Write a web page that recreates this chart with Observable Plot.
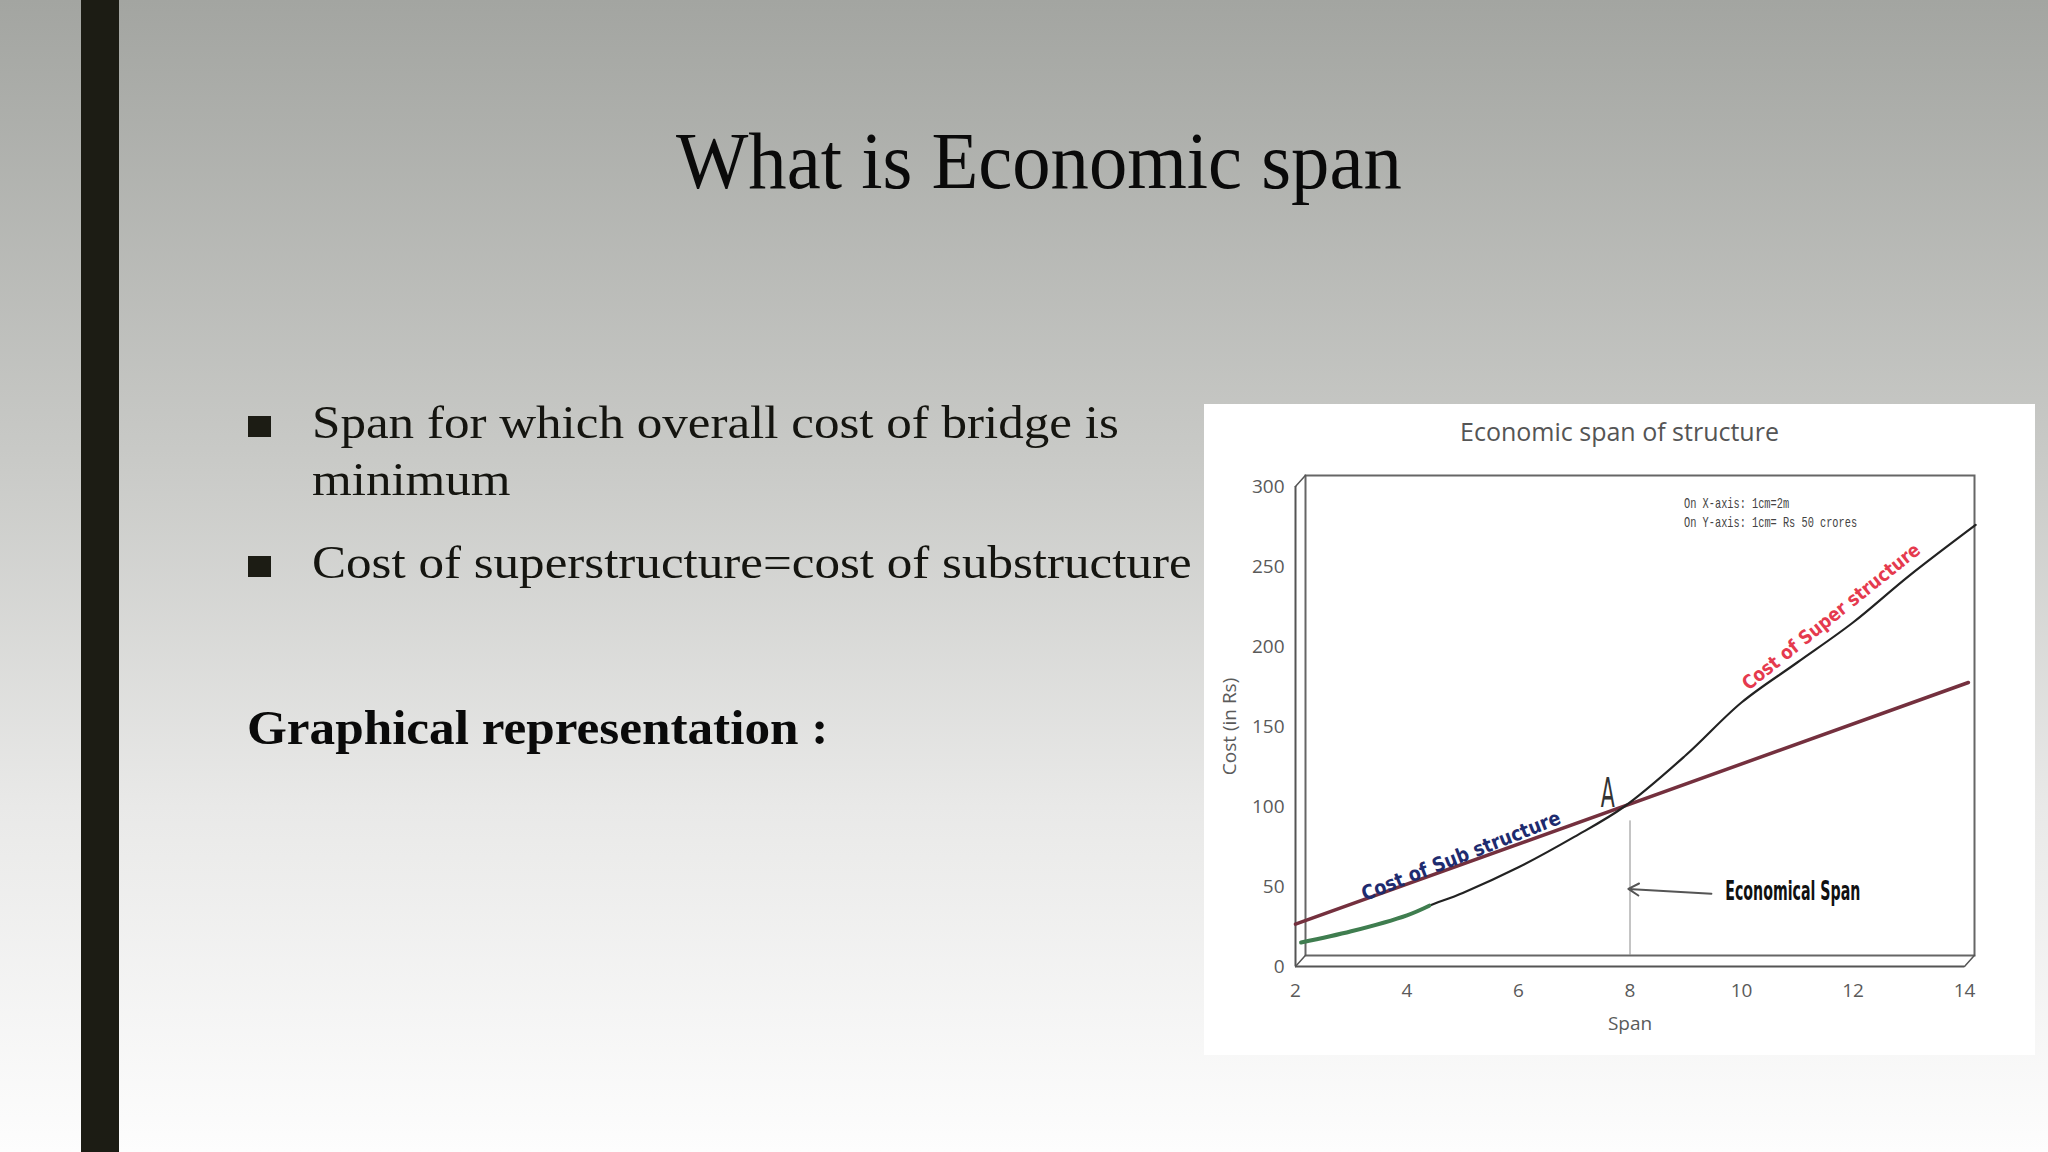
<!DOCTYPE html>
<html>
<head>
<meta charset="utf-8">
<script src="https://cdn.jsdelivr.net/npm/d3@7"></script>
<script src="https://cdn.jsdelivr.net/npm/@observablehq/plot@0.6"></script>
<style>
  html, body { margin: 0; padding: 0; }
  body {
    width: 2048px; height: 1152px; position: relative; overflow: hidden;
    background: linear-gradient(to bottom, #a3a5a1 0%, #c9cac7 40%, #e9e9e8 70%, #fdfdfd 100%);
    font-family: "Liberation Serif", "Times New Roman", serif;
  }
  #bar { position: absolute; left: 81px; top: 0; width: 38px; height: 1152px; background: #1c1c14; }
  .line { position: absolute; white-space: nowrap; line-height: 1; color: #111; transform-origin: 0 0; }
  #title { left: 676px; top: 121px; font-size: 80px; color: #0a0a0a; transform: scaleX(0.958); }
  .bul { font-size: 46px; color: #151510; transform: scaleX(1.11); }
  .sq { position: absolute; width: 23px; height: 21px; background: #1c1c14; }
  #graph { font-size: 48px; font-weight: bold; color: #0a0a0a; transform: scaleX(1.067); }
  #panel { position: absolute; left: 1204px; top: 404px; width: 831px; height: 651px; background: #ffffff; }
  #ctitle { position: absolute; left: 0; top: 10px; width: 831px; text-align: center;
            font-family: "Open Sans", sans-serif; font-size: 25px; line-height: 34px; color: #555; }
  #chart { position: absolute; left: 0; top: 56px; }
</style>
</head>
<body>
<div id="bar"></div>
<div class="line" id="title">What is Economic span</div>

<div class="sq" style="left:248px; top:416px;"></div>
<div class="line bul" style="left:312px; top:400px;">Span for which overall cost of bridge is</div>
<div class="line bul" style="left:312px; top:457px;">minimum</div>
<div class="sq" style="left:248px; top:556px;"></div>
<div class="line bul" style="left:312px; top:540px;">Cost of superstructure=cost of substructure</div>

<div class="line" id="graph" style="left:247px; top:704px;">Graphical representation :</div>

<div id="panel">
  <div id="ctitle">Economic span of structure</div>
  <div id="chart"></div>
</div>

<script>
// ---- data ----
const spanTicks = [2, 4, 6, 8, 10, 12, 14];
const costTicks = [0, 50, 100, 150, 200, 250, 300];

// straight line: cost of sub structure
const subSpan = [2, 14.07];
const subCost = [26.5, 177.5];

// curve: cost of super structure
const superSpan = [2.1, 3, 4, 4.4, 5, 6, 7, 7.9, 9, 10, 11, 12, 13, 14.2];
const superCost = [15, 22, 32, 38, 46, 62, 81, 100, 132, 165, 190, 215, 244, 276];
const greenUpTo = 4.4;

const economicalSpan = 8;
const spanRuleCost = [7, 91];
const arrowFrom = [9.46, 45.5];
const arrowTo = [7.97, 48.5];

const noteLines = ["On X-axis: 1cm=2m", "On Y-axis: 1cm= Rs 50 crores"];
const noteSpan = 8.97;
const noteCost = [289.5, 277.6];

const labels = [
  {x: 4.97, y: 69, text: "Cost of Sub structure", rotate: -21.5, color: "#1e2b6f", size: 20, len: 212},
  {x: 11.61, y: 218.5, text: "Cost of Super structure", rotate: -38.7, color: "#e53a4e", size: 19, len: 222}
];

// ---- build ----
const superData = superSpan.map((x, i) => ({x, y: superCost[i]}));
const subData = subSpan.map((x, i) => ({x, y: subCost[i]}));
const greenData = superData.filter(d => d.x <= greenUpTo);
const corners = [{x: 2, y: 300}, {x: 2, y: 0}, {x: 14, y: 0}];
const notes = noteLines.map((t, i) => ({t, x: noteSpan, y: noteCost[i]}));

const stick = {draw(context, l) { context.moveTo(0, 0); context.lineTo(0, -l); }};

const chart = Plot.plot({
  width: 831, height: 595,
  marginLeft: 91, marginRight: 71, marginTop: 26, marginBottom: 89,
  x: {domain: [2, 14]},
  y: {domain: [0, 300]},
  style: {background: "transparent", fontFamily: "Open Sans", overflow: "visible"},
  marks: [
    Plot.frame({dx: 10, dy: -11, stroke: "#666", strokeWidth: 2}),
    Plot.ruleX([2], {y1: 0, y2: 300, stroke: "#555", strokeWidth: 2}),
    Plot.ruleY([0], {x1: 2, x2: 14, stroke: "#555", strokeWidth: 2}),
    Plot.vector(corners, {x: "x", y: "y", length: 15, rotate: 42, anchor: "start", shape: stick, stroke: "#555", strokeWidth: 1.5}),
    Plot.axisX(spanTicks, {tickSize: 0, tickPadding: 17, fontSize: 19, fill: "#5a5a5a", label: null}),
    Plot.axisY(costTicks, {tickSize: 0, tickPadding: 11, fontSize: 19, fill: "#5a5a5a", label: null}),
    Plot.text(["Cost (in Rs)"], {frameAnchor: "left", dx: -66, rotate: -90, textAnchor: "middle", lineAnchor: "middle",
                     fontSize: 19, fill: "#5a5a5a"}),
    Plot.text(["Span"], {frameAnchor: "bottom", dy: 57, lineAnchor: "middle", fontSize: 19, fill: "#5a5a5a"}),
    Plot.ruleX([economicalSpan], {y1: spanRuleCost[0], y2: spanRuleCost[1], stroke: "#8a8a8a", strokeWidth: 1}),
    Plot.line(subData, {x: "x", y: "y", stroke: "#74303e", strokeWidth: 3.5}),
    Plot.line(superData, {x: "x", y: "y", stroke: "#222", strokeWidth: 2.2, curve: "catmull-rom"}),
    Plot.line(greenData, {x: "x", y: "y", stroke: "#3f7d4f", strokeWidth: 4, curve: "catmull-rom"}),
    Plot.arrow([0], {x1: () => arrowFrom[0], y1: () => arrowFrom[1], x2: () => arrowTo[0], y2: () => arrowTo[1],
                     stroke: "#555", strokeWidth: 2, headLength: 9}),
    Plot.text([{x: 7.6, y: 108}], {x: "x", y: "y", text: () => "A", fontSize: 40, fill: "#333",
                     fontFamily: "Liberation Sans Narrow, DejaVu Sans Condensed, sans-serif"}),
    Plot.text([{x: 10.92, y: 46.7}], {x: "x", y: "y", text: () => "Economical Span", fontSize: 27, fill: "#111",
                     fontWeight: "bold", fontFamily: "Liberation Sans Narrow, DejaVu Sans Condensed, sans-serif"}),
    Plot.text(labels, {x: "x", y: "y", text: "text", rotate: (d) => d.rotate, fill: "color", fontSize: (d) => d.size,
                     fontWeight: "bold", fontFamily: "DejaVu Sans, sans-serif"}),
    Plot.text(notes, {x: "x", y: "y", text: "t", textAnchor: "start", fontSize: 15, fill: "#444",
                     fontFamily: "Liberation Mono, DejaVu Sans Mono, monospace"})
  ]
});

// fit a few hand-lettered labels to their reference widths
function fit(content, len) {
  d3.select(chart).selectAll("text").filter(function () { return this.textContent === content; })
    .attr("textLength", len).attr("lengthAdjust", "spacingAndGlyphs");
}
fit("Economical Span", 135);
fit(noteLines[0], 105);
fit(noteLines[1], 173);
fit("A", 14);
labels.forEach(l => fit(l.text, l.len));

document.getElementById("chart").appendChild(chart);
</script>
</body>
</html>
